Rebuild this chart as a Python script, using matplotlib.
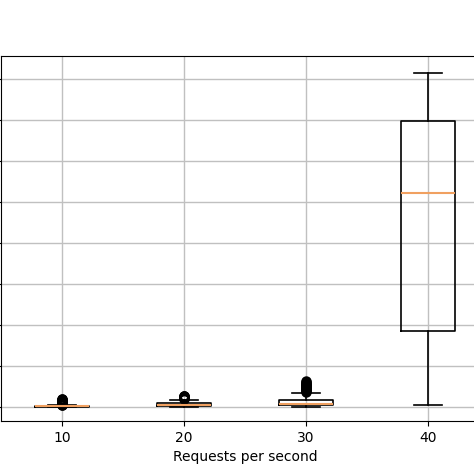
import matplotlib
matplotlib.use("Agg")
import matplotlib.pyplot as plt

labels = ["10", "20", "30", "40"]
whislo = [0.0, 0.0, 0.0, 0.03]
q1 = [0.0, 0.01, 0.03, 1.85]
med = [0.01, 0.05, 0.07, 5.20]
q3 = [0.02, 0.10, 0.16, 6.97]
whishi = [0.03, 0.16, 0.34, 8.13]
fliers = [
    [0.04, 0.05, 0.06, 0.07, 0.08, 0.09, 0.10, 0.11, 0.12, 0.13, 0.14,
     0.15, 0.16, 0.17, 0.18, 0.19],
    [0.19, 0.20, 0.21, 0.22, 0.23, 0.24, 0.25, 0.26, 0.27],
    [0.36, 0.38, 0.40, 0.42, 0.44, 0.46, 0.48, 0.50, 0.52, 0.54, 0.56,
     0.58, 0.60, 0.62],
    [],
]

stats = []
for i in range(len(labels)):
    stats.append(dict(label=labels[i], whislo=whislo[i], q1=q1[i], med=med[i],
                      q3=q3[i], whishi=whishi[i], fliers=fliers[i]))

fig = plt.figure(figsize=(4.74, 4.74), dpi=100)
ax = fig.add_axes([1 / 474, 53 / 474, 488 / 474, 365 / 474])
ax.bxp(stats, positions=[1, 2, 3, 4], widths=0.45,
       medianprops=dict(color="#f0a060", linewidth=1.5),
       boxprops=dict(linewidth=1.2), whiskerprops=dict(linewidth=1.2),
       capprops=dict(linewidth=1.2),
       flierprops=dict(marker="o", markersize=6, markeredgewidth=1.5))
ax.set_xlim(0.5, 4.5)
ax.set_ylim(-0.35, 8.55)
ax.set_yticks(range(0, 9))
ax.grid(True, color="#c0c0c0", linewidth=1.0)
ax.set_axisbelow(True)
ax.set_xlabel("Requests per second")
fig.savefig("out.png", dpi=100)
